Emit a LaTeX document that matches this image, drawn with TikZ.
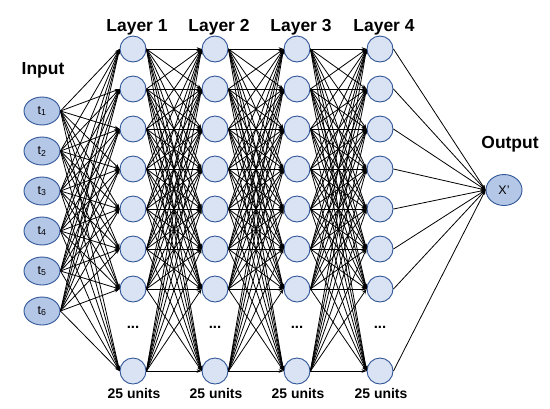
\documentclass[tikz,border=0pt]{standalone}
\usepackage{fontspec}
\setmainfont{Liberation Sans}
\usetikzlibrary{arrows.meta, shapes.geometric}
\definecolor{hidfill}{HTML}{DAE3F3}
\definecolor{infill}{HTML}{B4C7E7}
\definecolor{nodeline}{HTML}{2F5597}

\begin{document}
\begin{tikzpicture}[x=1bp, y=-1bp,
    hidden/.style={circle, draw=nodeline, fill=hidfill, line width=0.9bp,
        minimum size=26bp, inner sep=0pt},
    inout/.style={ellipse, draw=nodeline, fill=infill, line width=0.9bp,
        minimum width=36bp, minimum height=28bp, inner sep=0pt,
        font=\fontsize{12.5}{12.5}\selectfont},
    title/.style={anchor=base, font=\bfseries\fontsize{17.5}{17.5}\selectfont},
    units/.style={anchor=base, font=\bfseries\fontsize{14}{14}\selectfont},
    link/.style={-{Stealth[length=5bp,width=3.6bp]}, line width=0.8bp}]

    \useasboundingbox (0,0) rectangle (550,408);

    % input column
    \node[title] (intitle) at (43,74) {Input};
    \foreach \i in {1,...,6}
        \node[inout] (in\i) at (42,{111+40*(\i-1)}) {t\textsubscript{\i}};

    % hidden layers
    \foreach \l/\x in {1/133,2/215,3/297,4/380} {
        \node[title] (title\l) at (\x+4,31) {Layer \l};
        \foreach \i/\y in {1/49,2/89,3/129,4/169,5/209,6/249,7/289,8/371}
            \node[hidden] (l\l n\i) at (\x,\y) {};
        \node[font=\bfseries\fontsize{15}{15}\selectfont] (dots\l) at (\x,327) {...};
        \node[units] (units\l) at (\x+1,398) {25 units};
    }

    % output
    \node[title] (outtitle) at (510,148) {Output};
    \node[inout, minimum height=31bp] (out) at (504,190) {X'};

    % input to layer 1
    \foreach \i in {1,...,6}
        \foreach \j in {1,...,8}
            \draw[link] (in\i.east) -- (l1n\j.west);

    % layer to layer
    \foreach \l/\m in {1/2,2/3,3/4}
        \foreach \i in {1,...,8}
            \foreach \j in {1,...,8}
                \draw[link] (l\l n\i.east) -- (l\m n\j.west);

    % layer 4 to output
    \foreach \i in {1,...,8}
        \draw[link] (l4n\i.east) -- (out.west);

\end{tikzpicture}
\end{document}
